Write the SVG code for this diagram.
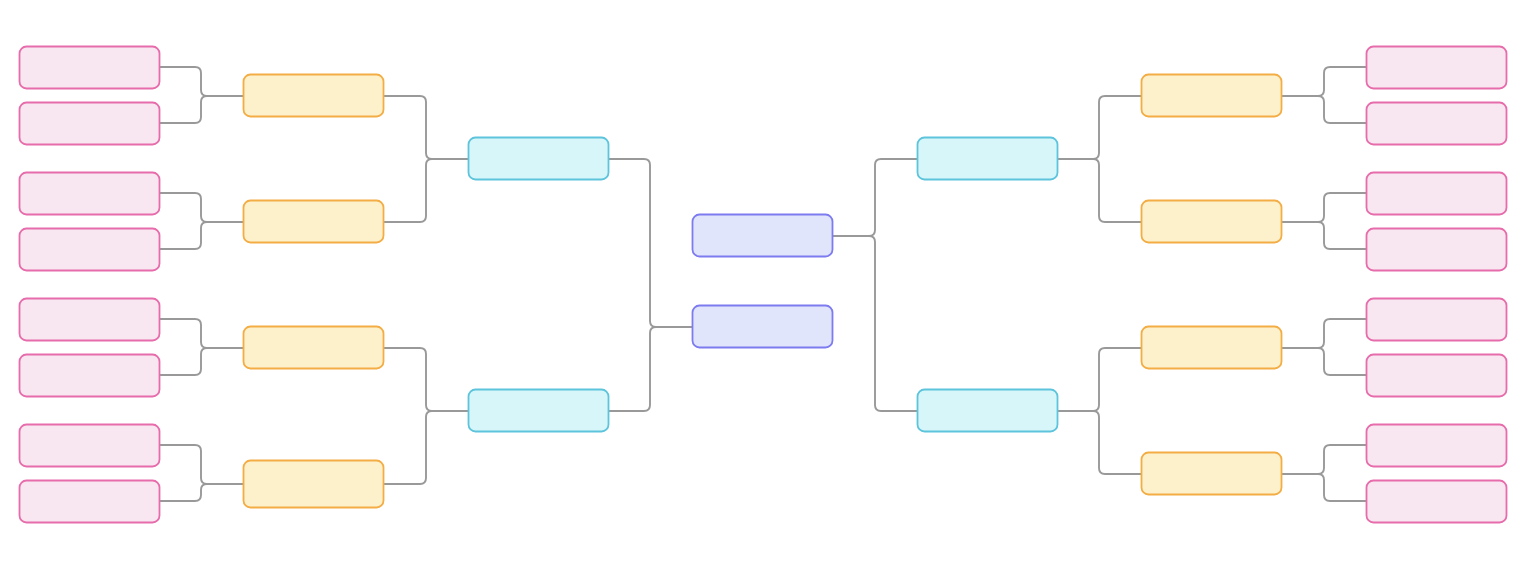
<svg xmlns="http://www.w3.org/2000/svg" width="1536" height="565" viewBox="0 0 1536 565">
<style>
rect{stroke-width:1.8}
.leaf{fill:#f8e6f1;stroke:#e76cab}
.qf{fill:#fdf1cc;stroke:#f3ad44}
.sf{fill:#d6f6fa;stroke:#5dc4dc}
.fin{fill:#e1e5fb;stroke:#7d7bf0}
.edges path{fill:none;stroke:#999;stroke-width:1.9}
</style>
<rect width="1536" height="565" fill="#fff"/>
<g class="edges" id="connectors">
<path d="M159,67 H195 Q201,67 201,73 V90 Q201,96 207,96 H243"/>
<path d="M159,123 H195 Q201,123 201,117 V102 Q201,96 207,96 H243"/>
<path d="M159,193 H195 Q201,193 201,199 V216 Q201,222 207,222 H243"/>
<path d="M159,249 H195 Q201,249 201,243 V228 Q201,222 207,222 H243"/>
<path d="M159,319 H195 Q201,319 201,325 V342 Q201,348 207,348 H243"/>
<path d="M159,375 H195 Q201,375 201,369 V354 Q201,348 207,348 H243"/>
<path d="M159,445 H195 Q201,445 201,451 V478 Q201,484 207,484 H243"/>
<path d="M159,501 H195 Q201,501 201,495 V490 Q201,484 207,484 H243"/>
<path d="M384,96 H420 Q426,96 426,102 V153 Q426,159 432,159 H468"/>
<path d="M384,222 H420 Q426,222 426,216 V165 Q426,159 432,159 H468"/>
<path d="M384,348 H420 Q426,348 426,354 V405 Q426,411 432,411 H468"/>
<path d="M384,484 H420 Q426,484 426,478 V417 Q426,411 432,411 H468"/>
<path d="M608,159 H644 Q650,159 650,165 V321 Q650,327 656,327 H692"/>
<path d="M608,411 H644 Q650,411 650,405 V333 Q650,327 656,327 H692"/>
<path d="M833,236 H869 Q875,236 875,230 V165 Q875,159 881,159 H917"/>
<path d="M833,236 H869 Q875,236 875,242 V405 Q875,411 881,411 H917"/>
<path d="M1057,159 H1093 Q1099,159 1099,153 V102 Q1099,96 1105,96 H1141"/>
<path d="M1057,159 H1093 Q1099,159 1099,165 V216 Q1099,222 1105,222 H1141"/>
<path d="M1057,411 H1093 Q1099,411 1099,405 V354 Q1099,348 1105,348 H1141"/>
<path d="M1057,411 H1093 Q1099,411 1099,417 V468 Q1099,474 1105,474 H1141"/>
<path d="M1282,96 H1318 Q1324,96 1324,90 V73 Q1324,67 1330,67 H1366"/>
<path d="M1282,96 H1318 Q1324,96 1324,102 V117 Q1324,123 1330,123 H1366"/>
<path d="M1282,222 H1318 Q1324,222 1324,216 V199 Q1324,193 1330,193 H1366"/>
<path d="M1282,222 H1318 Q1324,222 1324,228 V243 Q1324,249 1330,249 H1366"/>
<path d="M1282,348 H1318 Q1324,348 1324,342 V325 Q1324,319 1330,319 H1366"/>
<path d="M1282,348 H1318 Q1324,348 1324,354 V369 Q1324,375 1330,375 H1366"/>
<path d="M1282,474 H1318 Q1324,474 1324,468 V451 Q1324,445 1330,445 H1366"/>
<path d="M1282,474 H1318 Q1324,474 1324,480 V495 Q1324,501 1330,501 H1366"/>
</g>
<g id="L1"><rect class="leaf" x="19.5" y="46.5" width="140" height="42" rx="7"/></g>
<g id="L2"><rect class="leaf" x="19.5" y="102.5" width="140" height="42" rx="7"/></g>
<g id="L3"><rect class="leaf" x="19.5" y="172.5" width="140" height="42" rx="7"/></g>
<g id="L4"><rect class="leaf" x="19.5" y="228.5" width="140" height="42" rx="7"/></g>
<g id="L5"><rect class="leaf" x="19.5" y="298.5" width="140" height="42" rx="7"/></g>
<g id="L6"><rect class="leaf" x="19.5" y="354.5" width="140" height="42" rx="7"/></g>
<g id="L7"><rect class="leaf" x="19.5" y="424.5" width="140" height="42" rx="7"/></g>
<g id="L8"><rect class="leaf" x="19.5" y="480.5" width="140" height="42" rx="7"/></g>
<g id="LQ1"><rect class="qf" x="243.5" y="74.5" width="140" height="42" rx="7"/></g>
<g id="LQ2"><rect class="qf" x="243.5" y="200.5" width="140" height="42" rx="7"/></g>
<g id="LQ3"><rect class="qf" x="243.5" y="326.5" width="140" height="42" rx="7"/></g>
<g id="LQ4"><rect class="qf" x="243.5" y="460.5" width="140" height="47" rx="7"/></g>
<g id="LS1"><rect class="sf" x="468.5" y="137.5" width="140" height="42" rx="7"/></g>
<g id="LS2"><rect class="sf" x="468.5" y="389.5" width="140" height="42" rx="7"/></g>
<g id="F1"><rect class="fin" x="692.5" y="214.5" width="140" height="42" rx="7"/></g>
<g id="F2"><rect class="fin" x="692.5" y="305.5" width="140" height="42" rx="7"/></g>
<g id="RS1"><rect class="sf" x="917.5" y="137.5" width="140" height="42" rx="7"/></g>
<g id="RS2"><rect class="sf" x="917.5" y="389.5" width="140" height="42" rx="7"/></g>
<g id="RQ1"><rect class="qf" x="1141.5" y="74.5" width="140" height="42" rx="7"/></g>
<g id="RQ2"><rect class="qf" x="1141.5" y="200.5" width="140" height="42" rx="7"/></g>
<g id="RQ3"><rect class="qf" x="1141.5" y="326.5" width="140" height="42" rx="7"/></g>
<g id="RQ4"><rect class="qf" x="1141.5" y="452.5" width="140" height="42" rx="7"/></g>
<g id="R1"><rect class="leaf" x="1366.5" y="46.5" width="140" height="42" rx="7"/></g>
<g id="R2"><rect class="leaf" x="1366.5" y="102.5" width="140" height="42" rx="7"/></g>
<g id="R3"><rect class="leaf" x="1366.5" y="172.5" width="140" height="42" rx="7"/></g>
<g id="R4"><rect class="leaf" x="1366.5" y="228.5" width="140" height="42" rx="7"/></g>
<g id="R5"><rect class="leaf" x="1366.5" y="298.5" width="140" height="42" rx="7"/></g>
<g id="R6"><rect class="leaf" x="1366.5" y="354.5" width="140" height="42" rx="7"/></g>
<g id="R7"><rect class="leaf" x="1366.5" y="424.5" width="140" height="42" rx="7"/></g>
<g id="R8"><rect class="leaf" x="1366.5" y="480.5" width="140" height="42" rx="7"/></g>
</svg>
